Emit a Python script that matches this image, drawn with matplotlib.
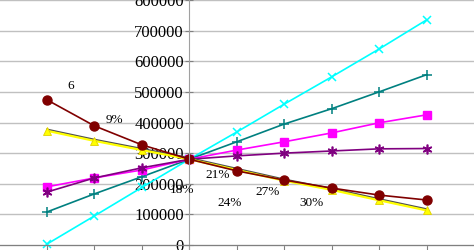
import numpy as np
import matplotlib
matplotlib.use("Agg")
from matplotlib import pyplot as plt
import matplotlib.patheffects as pe

plt.rcParams['font.family'] = ['Liberation Serif', 'DejaVu Serif']

# category positions (the y axis crosses at position 3)
x = [0, 1, 2, 3, 4, 5, 6, 7, 8]

cyan_vals = [3000, 95000, 188000, 280000, 369000, 460000, 549000, 640000, 735000]
teal_vals = [108000, 167000, 223000, 280000, 337000, 395000, 445000, 500000, 556000]
pink_vals = [190000, 219000, 245000, 280000, 310000, 337000, 366000, 399000, 425000]
purple_vals = [173000, 219000, 252000, 280000, 291000, 300000, 307000, 314000, 315000]
yellow_vals = [373000, 340000, 310000, 280000, 245000, 210000, 180000, 146000, 113000]
red_vals = [474000, 389000, 327000, 280000, 242000, 212000, 186000, 163000, 147000]

# percentage labels (text, x, y)
lbl_text = ["6", "9%", "18%", "21%", "24%", "27%", "30%"]
lbl_x = [0.49, 1.43, 2.85, 3.59, 3.84, 4.64, 5.57]
lbl_y = [518000, 407000, 179000, 228000, 137000, 173000, 137000]

fig = plt.figure(figsize=(4.74, 2.5), dpi=100)
ax = fig.add_axes([0, 0, 1, 1])

ax.set_xlim(-0.99, 9.0)
ax.set_ylim(-16300, 798000)

ax.set_yticks(np.arange(0, 900000, 100000))
ax.yaxis.grid(True, color='#c0c0c0', linewidth=1)
ax.set_axisbelow(True)

for s in ['top', 'right']:
    ax.spines[s].set_visible(False)
ax.spines['left'].set_position(('data', 3))
ax.spines['left'].set_color('#a0a0a0')
ax.spines['bottom'].set_position(('data', 0))
ax.spines['bottom'].set_color('#808080')

ax.set_xticks(x)
ax.set_xticklabels([])
ax.tick_params(axis='x', direction='out', length=5, color='#808080')
ax.tick_params(axis='y', direction='inout', length=6, color='#808080',
               labelsize=12, pad=1)
ax.set_yticklabels([str(v) for v in range(0, 900000, 100000)])

ax.plot(x, cyan_vals, '-x', color='#00ffff', lw=1.2, ms=6, mew=1.1)
ax.plot(x, teal_vals, '-+', color='#008080', lw=1.2, ms=6.5, mew=1.1)
ax.plot(x, pink_vals, '-s', color='#ff00ff', lw=1.2, ms=6)
ax.plot(x, purple_vals, '-', color='#800080', lw=1.2,
        marker=(6, 2, 0), ms=7, mew=1.2)
# yellow series: line with a dark edge, then plain yellow markers
ax.plot(x, yellow_vals, '-', color='#ffff00', lw=1.6,
        path_effects=[pe.Stroke(linewidth=1.2, foreground='#505050', offset=(0, 1.0)),
                      pe.Normal()])
ax.plot(x, yellow_vals, '^', color='#ffff00', ms=6, mec='#e0d000', mew=0.6)
ax.plot(x, red_vals, '-o', color='#800000', lw=1.2, ms=6.5)

for t, tx, ty in zip(lbl_text, lbl_x, lbl_y):
    ax.text(tx, ty, t, fontsize=9.5, ha='center', va='center')

fig.savefig("out.png", dpi=100)
